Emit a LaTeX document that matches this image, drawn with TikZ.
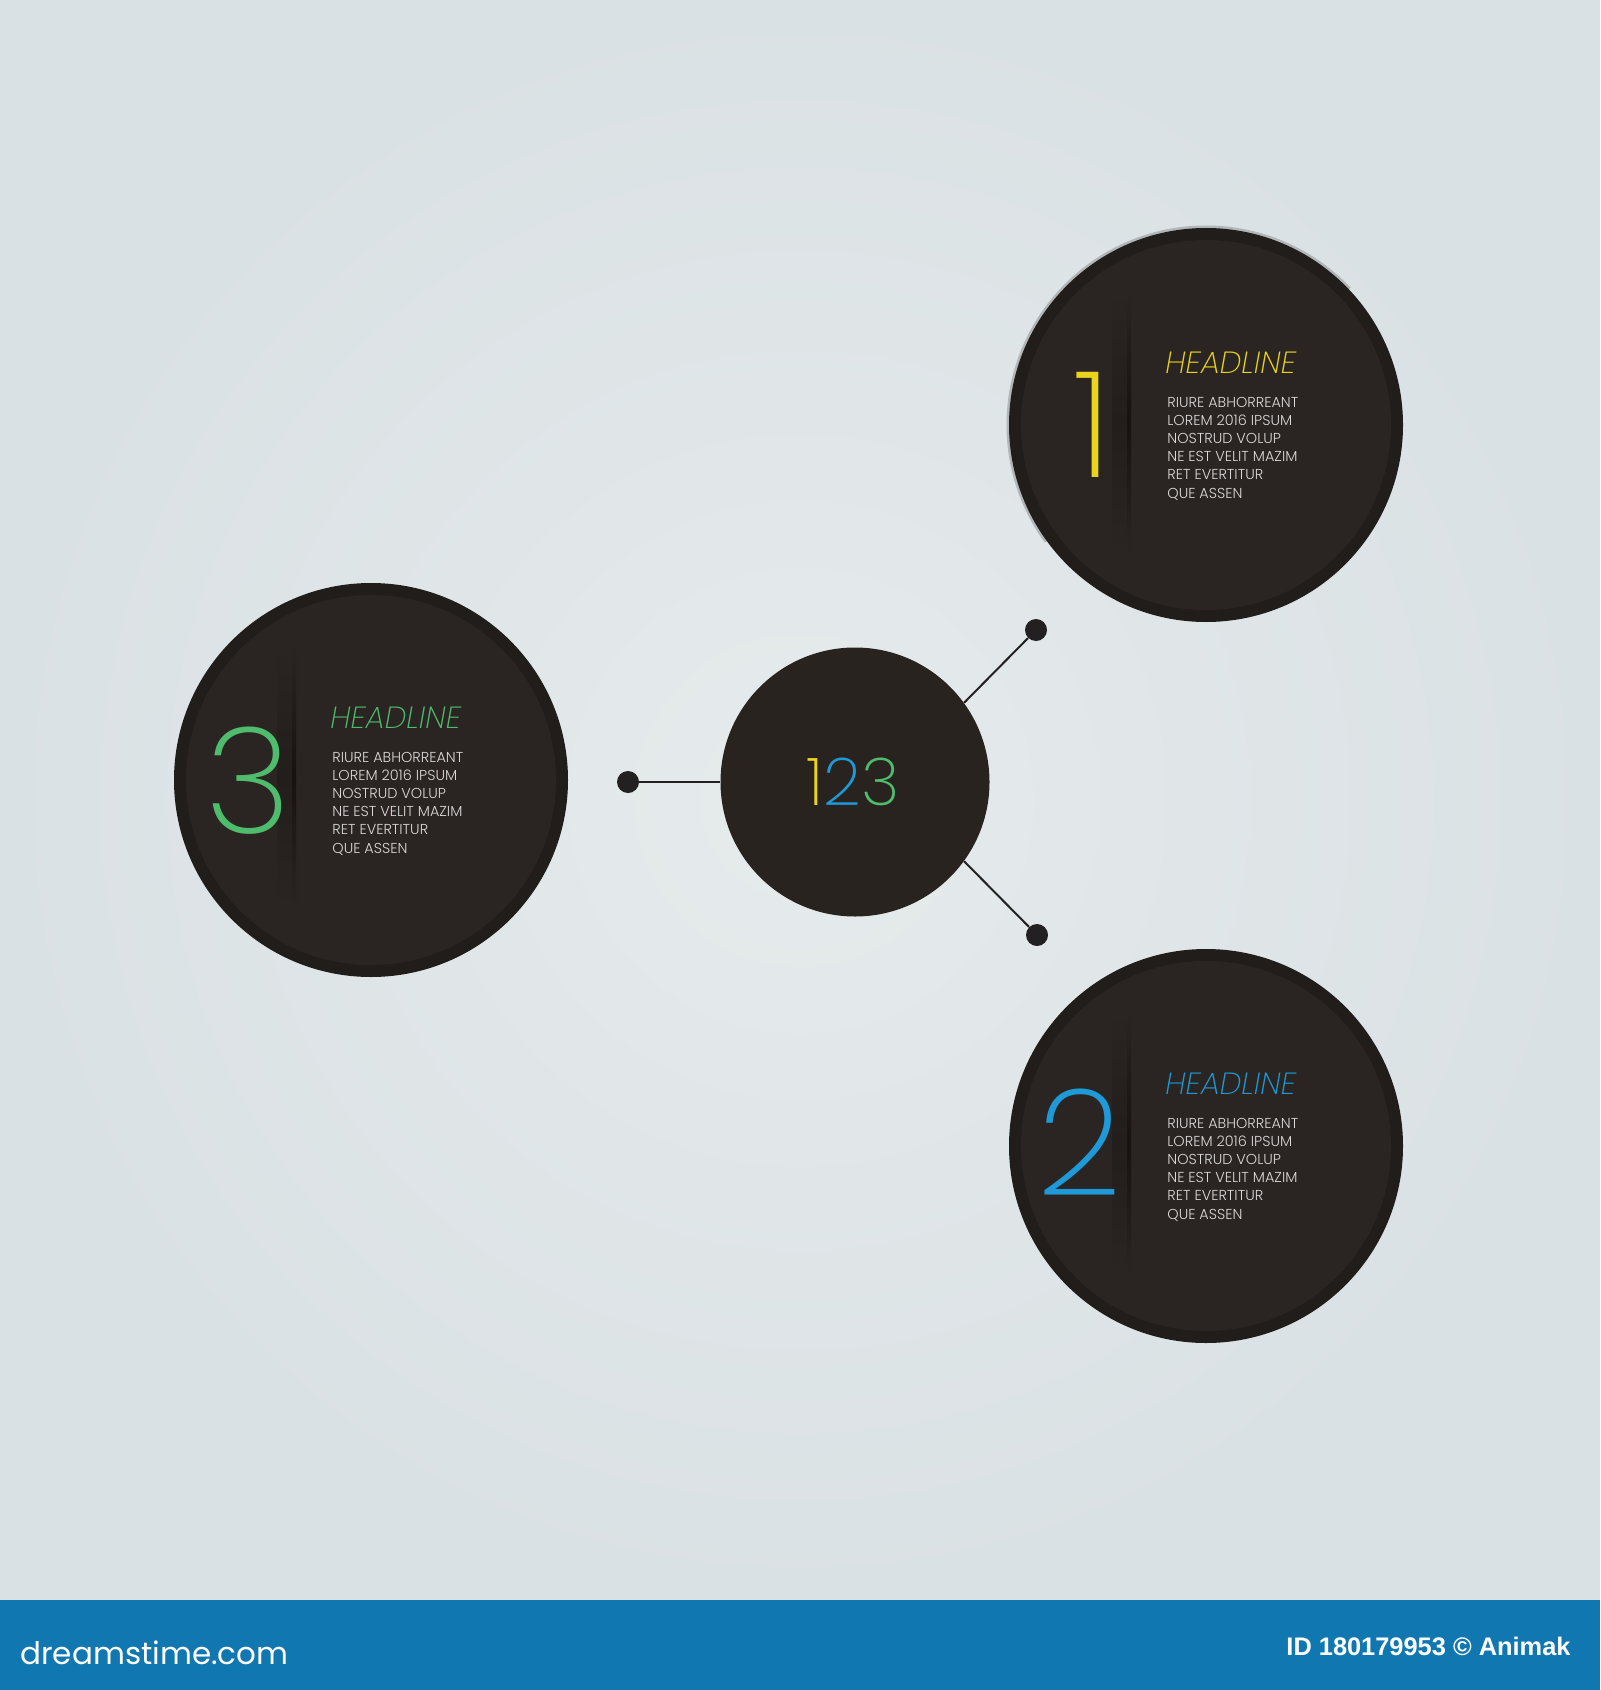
\documentclass[tikz,border=0pt]{standalone}
\usepackage{fontspec}
\setmainfont{Poppins}
\IfFontExistsTF{Poppins Light}{%
  \newfontfamily\bodyf{Poppins Light}%
}{%
  \newfontfamily\bodyf{Poppins}%
}
\IfFontExistsTF{Poppins ExtraLight Italic}{%
  \newfontfamily\headf{Poppins ExtraLight Italic}%
}{%
  \IfFontExistsTF{Poppins Light Italic}{%
    \newfontfamily\headf{Poppins Light Italic}%
  }{%
    \newfontfamily\headf{Poppins}[FakeSlant=0.22]%
  }%
}
\IfFontExistsTF{Poppins ExtraLight}{%
  \newfontfamily\numf{Poppins ExtraLight}%
}{%
  \IfFontExistsTF{Poppins Thin}{%
    \newfontfamily\numf{Poppins Thin}%
  }{%
    \IfFontExistsTF{DejaVu Sans ExtraLight}{%
      \newfontfamily\numf{DejaVu Sans ExtraLight}%
    }{%
      \newfontfamily\numf{DejaVu Sans}%
    }%
  }%
}
\newfontfamily\logof{Poppins}
\newfontfamily\idf{Liberation Sans}

\definecolor{bgin}{HTML}{E6EBEC}
\definecolor{bgout}{HTML}{DAE1E4}
\definecolor{barblue}{HTML}{1077B0}
\definecolor{ringc}{HTML}{211D1B}
\definecolor{innerc}{HTML}{2A2522}
\definecolor{midc}{HTML}{28231F}
\definecolor{divc}{HTML}{151211}
\definecolor{shadc}{HTML}{221E1C}
\definecolor{rimgray}{HTML}{B2B6B8}
\definecolor{dotc}{HTML}{222020}
\definecolor{cyel}{HTML}{EAD51C}
\definecolor{cblu}{HTML}{1E9AD8}
\definecolor{cgrn}{HTML}{4FBB6C}
\definecolor{bodyc}{HTML}{D9D9D9}

\tikzset{
  bigc/.style={circle, fill=ringc, draw=none, inner sep=0pt},
  innc/.style={circle, fill=innerc, draw=none, inner sep=0pt},
  dotn/.style={circle, fill=dotc, draw=none, inner sep=0pt, minimum size=11pt},
  conn/.style={draw=dotc, line width=1pt},
  txt/.style={inner sep=0pt, anchor=base west},
  bodytxt/.style={txt, text=bodyc, font=\fontsize{7.2}{8}\bodyf},
  headtxt/.style={txt, font=\fontsize{15.3}{16}\headf},
  numtxt/.style={inner sep=0pt, anchor=base, font=\fontsize{74}{80}\numf},
}

\begin{document}
\begin{tikzpicture}[x=0.5pt,y=-0.5pt]
\useasboundingbox (0,0) rectangle (1600,1690);
\shade[inner color=bgin, outer color=bgout] (0,0) rectangle (1600,1600);
\fill[barblue] (0,1600) rectangle (1600,1690);

% dots and centre circle
\node[dotn] (d1) at (1036,630) {};
\node[dotn] (d2) at (1037,935) {};
\node[dotn] (d3) at (628,782) {};
\node[circle, fill=midc, inner sep=0pt, minimum size=134.5pt] (c0) at (855,782) {};
\draw[conn] (c0.36.2) -- (d1);
\draw[conn] (c0.-36.2) -- (d2);
\draw[conn] (c0) -- (d3);
\node[inner sep=0pt, anchor=base, font=\fontsize{33}{33}\numf] (t0) at (853,805)
  {{\color{cyel}1}{\color{cblu}2}{\color{cgrn}3}};

% big circles
\begin{scope}
  \clip (880,180) -- (1480,180) -- (880,680) -- cycle;
  \fill[rimgray] (1206,425) circle[radius=199.5];
\end{scope}
\foreach \i/\cx/\cy/\col/\dg/\nx/\ny in {1/1206/425/cyel/1/1093/477, 2/1206/1146/cblu/2/1080/1195, 3/371/780/cgrn/3/248/833}{
  \node[bigc, minimum size=197pt] (c\i) at (\cx,\cy) {};
  \node[innc, minimum size=185pt] (ci\i) at (\cx,\cy) {};
  \shade[top color=innerc, bottom color=shadc] (\cx-94,\cy-135) rectangle (\cx-79,\cy-3);
  \shade[top color=shadc, bottom color=innerc] (\cx-94,\cy-3) rectangle (\cx-79,\cy+128);
  \shade[top color=innerc, bottom color=divc] (\cx-79,\cy-135) rectangle (\cx-75,\cy-3);
  \shade[top color=divc, bottom color=innerc] (\cx-79,\cy-3) rectangle (\cx-75,\cy+128);
  \node[numtxt, text=\col] (n\i) at (\nx,\ny) {\dg};
  \node[headtxt, text=\col] (h\i) at (\cx-41,\cy-52) {HEADLINE};
  \foreach \t [count=\k] in {RIURE ABHORREANT, LOREM 2016 IPSUM, NOSTRUD VOLUP, NE EST VELIT MAZIM, RET EVERTITUR, QUE ASSEN}{
    \node[bodytxt] (b\i-\k) at (\cx-39,\cy-18+18.2*\k-18.2) {\t};
  }
}

% footer
\node[txt, text=white, font=\fontsize{15.5}{20}\logof] (logo) at (20,1664) {dreamstime.com};
\node[inner sep=0pt, anchor=base east, text=white, font=\fontsize{12.7}{15}\idf\bfseries] (idt) at (1571,1655) {ID 180179953 © Animak};
\end{tikzpicture}
\end{document}
